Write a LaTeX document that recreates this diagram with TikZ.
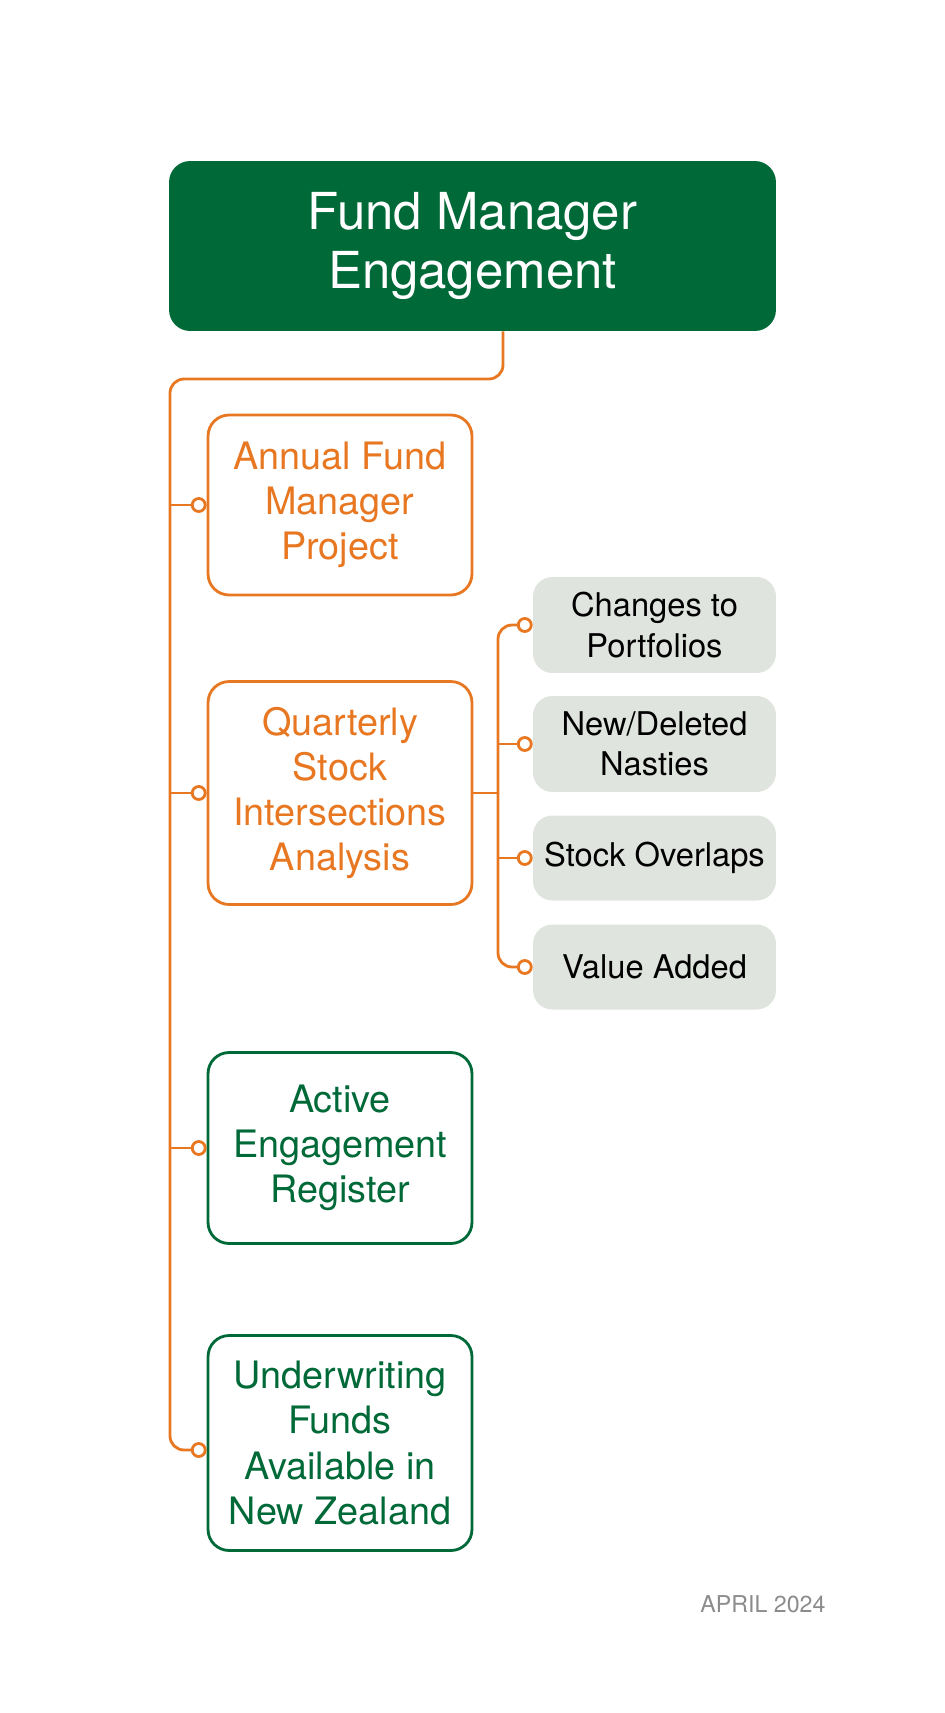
\documentclass[tikz,border=0pt]{standalone}
\usepackage{fontspec}
\setmainfont{TeX Gyre Heros}
\usetikzlibrary{positioning}
\definecolor{fmgreen}{RGB}{0,105,56}
\definecolor{fmorange}{RGB}{232,119,34}
\definecolor{fmgrey}{RGB}{224,228,222}
\definecolor{dategrey}{RGB}{140,140,140}

\begin{document}
\begin{tikzpicture}[
    x=0.02cm, y=-0.02cm,
    titlebox/.style={
        rectangle, fill=fmgreen, rounded corners=12pt,
        minimum width=12.14cm, minimum height=3.4cm,
        align=center, text=white, font=\fontsize{29}{34}\selectfont
    },
    taskbox/.style={
        rectangle, line width=1.6pt, rounded corners=12pt,
        minimum width=5.28cm, inner sep=0pt,
        align=center, font=\fontsize{21.5}{25.8}\selectfont
    },
    orangetask/.style={taskbox, draw=fmorange, text=fmorange},
    greentask/.style={taskbox, draw=fmgreen, text=fmgreen},
    subbox/.style={
        rectangle, fill=fmgrey, rounded corners=11pt,
        minimum width=4.86cm, inner sep=0pt,
        align=center, font=\fontsize{18.6}{23}\selectfont
    },
    knob/.style={
        circle, draw=fmorange, fill=white, line width=1.6pt,
        minimum size=0.26cm, inner sep=0pt, anchor=east
    },
    link/.style={draw=fmorange, line width=1.6pt, rounded corners=8pt}
]
\useasboundingbox (0,0) rectangle (945,1713);

% Nodes
\node[titlebox] (fme) at (472.5,246) {Fund Manager\\Engagement};

\node[orangetask, minimum height=3.6cm]  (annual)    at (340,505)  {Annual Fund\\Manager\\Project};
\node[orangetask, minimum height=4.46cm] (quarterly) at (340,793)  {Quarterly\\Stock\\Intersections\\Analysis};
\node[greentask,  minimum height=3.82cm] (register)  at (340,1148) {Active\\Engagement\\Register};
\node[greentask,  minimum height=4.3cm]  (underwrite) at (340,1443) {Underwriting\\Funds\\Available in\\New Zealand};

\node[subbox, minimum height=1.92cm] (changes)  at (654.5,625) {Changes to\\Portfolios};
\node[subbox, minimum height=1.92cm] (nasties)  at (654.5,744) {New/Deleted\\Nasties};
\node[subbox, minimum height=1.7cm]  (overlaps) at (654.5,858) {Stock Overlaps};
\node[subbox, minimum height=1.7cm]  (valadd)   at (654.5,967) {Value Added};

\node[text=dategrey, font=\fontsize{13.2}{16}\selectfont] (date) at (763,1604) {APRIL 2024};

% Knobs
\node[knob] (k1) at (annual.west) {};
\node[knob] (k2) at (quarterly.west) {};
\node[knob] (k3) at (register.west) {};
\node[knob, yshift=-0.14cm] (k4) at (underwrite.west) {};
\node[knob] (s1) at (changes.west) {};
\node[knob] (s2) at (nasties.west) {};
\node[knob] (s3) at (overlaps.west) {};
\node[knob] (s4) at (valadd.west) {};

% Connectors
\coordinate (drop) at ([xshift=0.61cm]fme.south);
\coordinate (bus) at (170,379);
\coordinate (subbus) at (498,793);
\draw[link] (drop) |- (bus) |- (k4.west);
\draw[link] (k1.west) -- (k1.west -| bus);
\draw[link] (k2.west) -- (k2.west -| bus);
\draw[link] (k3.west) -- (k3.west -| bus);
\draw[link] (quarterly.east) -- (subbus);
\draw[link] (s1.west) -| (subbus) |- (s4.west);
\draw[link] (s2.west) -- (s2.west -| subbus);
\draw[link] (s3.west) -- (s3.west -| subbus);

\end{tikzpicture}
\end{document}
